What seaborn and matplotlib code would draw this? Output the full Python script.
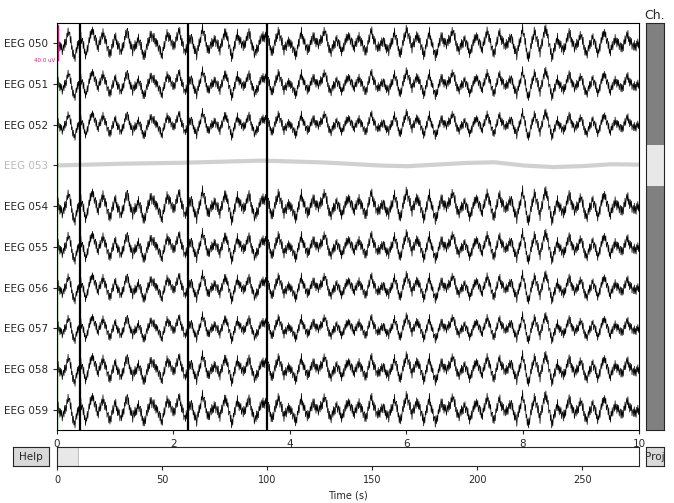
import matplotlib
matplotlib.use("Agg")
import matplotlib.pyplot as plt
import seaborn as sns
import numpy as np

sns.set_style("white")
plt.rcParams['font.family'] = ['DejaVu Sans']

channels = ["EEG 050", "EEG 051", "EEG 052", "EEG 053", "EEG 054",
            "EEG 055", "EEG 056", "EEG 057", "EEG 058", "EEG 059"]
bad_channels = ["EEG 053"]
xticks = [0, 2, 4, 6, 8, 10]
scroll_ticks = [0, 50, 100, 150, 200, 250]
# shared waveform, one value every 0.1 s (channel units)
base_wave = [0.1, -0.2, 0.3, -0.4, 0.2, -0.3, 0.35, -0.1, 0.25, -0.3,
             0.15, -0.25, 0.3, -0.2, 0.1, -0.35, 0.2, 0.05, -0.3, 0.25,
             -0.1, 0.3, -0.25, 0.15, -0.3, 0.35, -0.2, 0.1, -0.15, 0.3,
             -0.35, 0.2, -0.1, 0.25, -0.3, 0.1, 0.2, -0.25, 0.3, -0.15,
             0.05, -0.3, 0.25, -0.2, 0.15, -0.05, 0.3, -0.25, 0.1, -0.2,
             0.2, -0.1, 0.15, -0.25, 0.3, -0.15, 0.05, -0.2, 0.25, -0.3,
             0.35, -0.1, 0.2, -0.3, 0.25, -0.35, 0.15, -0.05, 0.3, -0.2,
             0.1, -0.25, 0.2, -0.15, 0.3, -0.3, 0.25, -0.1, 0.15, -0.3,
             0.35, -0.4, 0.3, -0.2, 0.4, -0.35, 0.1, -0.2, 0.25, -0.15,
             0.2, -0.3, 0.15, -0.25, 0.3, -0.2, 0.1, -0.15, 0.2, -0.1, 0.0]
fine_wave = [0.12, -0.08, 0.15, -0.1, 0.06, -0.14, 0.1, -0.05, 0.13, -0.11, 0.04]
channel_gain = [1.0, 0.9, 0.85, 0.0, 1.05, 0.95, 0.9, 0.85, 0.95, 1.0]
bad_wave = [0.0, -0.02, -0.04, -0.05, -0.06, -0.08, -0.1, -0.12, -0.1, -0.08, -0.04, 0.0, 0.02, -0.02, -0.06, -0.08, 0.0, 0.04, 0.02, -0.03, -0.02]
spike_times = [0.4, 2.25, 3.6]

fig = plt.figure(figsize=(6.74, 5.03), dpi=100)
W, H = 674, 503
def ax_px(x0, y0, x1, y1):
    return fig.add_axes([x0 / W, 1 - y1 / H, (x1 - x0) / W, (y1 - y0) / H])

ax = ax_px(57, 23, 639, 430)
t_coarse = np.arange(len(base_wave)) * 0.1
t = np.arange(0, 10.0001, 0.01)
wave = np.interp(t, t_coarse, base_wave)
fine = np.resize(fine_wave, len(t))
for i, ch in enumerate(channels):
    if ch in bad_channels:
        tb = np.linspace(0, 10, len(bad_wave))
        y = np.interp(t, tb, bad_wave)
        ax.plot(t, i + y, color="#d0d0d0", lw=3, zorder=1)
        continue
    sig = channel_gain[i] * (wave + fine)
    ax.plot(t, i - sig, color="black", lw=0.5)
for s in spike_times:
    ax.vlines(s, -0.5, 9.5, color="black", lw=1.6)
ax.axvline(0, color="green", lw=1)
ax.plot([0.02, 0.02], [-0.45, 0.4], color="#c02080", lw=1)
ax.text(-0.03, 0.42, "40.0 uV", color="#c02080", fontsize=4, ha="right", va="center")
ax.set_xlim(0, 10)
ax.set_ylim(9.5, -0.5)
ax.set_yticks(range(len(channels)))
ax.set_yticklabels(channels, fontsize=7.5)
for lab in ax.get_yticklabels():
    if lab.get_text() in bad_channels:
        lab.set_color("#bbbbbb")
ax.set_xticks(xticks)
ax.tick_params(labelsize=7.5, length=3, left=True, bottom=True)
for sp in ax.spines.values():
    sp.set_color("black"); sp.set_linewidth(0.8)

axr = ax_px(646, 23, 664, 430)
axr.set_facecolor("#808080")
bad_idx = [channels.index(c) for c in bad_channels]
axr.barh(bad_idx, [1] * len(bad_idx), height=1.0, linewidth=0, color="#e8e8e8")
axr.set_ylim(9.5, -0.5); axr.set_xlim(0, 1)
axr.set_xticks([]); axr.set_yticks([])
axr.set_title("Ch.", fontsize=9, pad=3)
for sp in axr.spines.values():
    sp.set_linewidth(0.8)

axb = ax_px(57, 447, 639, 466)
axb.barh([0], [10], left=0, height=1, color="#e8e8e8", edgecolor="#aaaaaa", lw=0.5)
axb.set_xlim(0, 277); axb.set_ylim(-0.5, 0.5)
axb.set_yticks([]); axb.set_xticks(scroll_ticks)
axb.tick_params(labelsize=7, length=3, bottom=True)
axb.set_xlabel("Time (s)", fontsize=7)

for (x0, x1, lab) in [(13, 49, "Help"), (646, 664, "Proj")]:
    a = ax_px(x0, 447, x1, 466)
    a.set_facecolor("#d9d9d9"); a.set_xticks([]); a.set_yticks([])
    a.text(0.5, 0.5, lab, ha="center", va="center", fontsize=7.5, transform=a.transAxes)

fig.savefig("out.png", dpi=100, facecolor="white")
